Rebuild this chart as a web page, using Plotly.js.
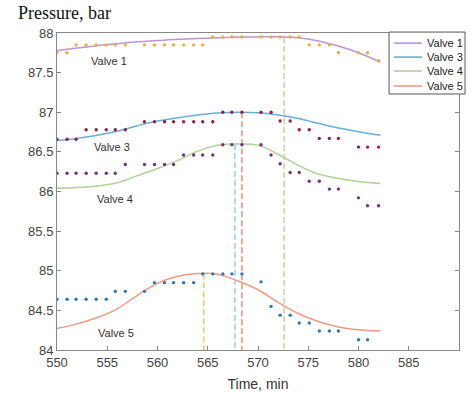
<!DOCTYPE html>
<html>
<head>
<meta charset="utf-8">
<script src="https://cdn.plot.ly/plotly-3.0.1.min.js"></script>
<style>html,body{margin:0;padding:0;background:#fff;}#chart{width:474px;height:398px;}</style>
</head>
<body>
<div id="chart"></div>
<script>
// Measured sample times (min)
const dotTimes = [550.0, 551.0, 551.9, 552.9, 553.9, 554.9, 555.8, 556.8, 558.7, 559.7, 560.7, 561.6, 562.6, 563.6, 564.5, 565.5, 566.5, 567.4, 568.4, 570.3, 571.3, 572.2, 573.2, 574.1, 575.1, 576.1, 577.1, 578.0, 580.0, 580.9, 582.0];
// Measured pressure points (bar)
const valve1Dots = [87.75, 87.75, 87.85, 87.85, 87.85, 87.85, 87.85, 87.85, 87.85, 87.85, 87.85, 87.85, 87.85, 87.85, 87.85, 87.95, 87.95, 87.95, 87.95, 87.95, 87.95, 87.95, 87.95, 87.95, 87.85, 87.85, 87.85, 87.75, 87.75, 87.75, 87.65];
const valve3Dots = [86.66, 86.66, 86.66, 86.78, 86.78, 86.78, 86.78, 86.78, 86.88, 86.88, 86.88, 86.88, 86.88, 86.88, 86.88, 86.88, 87.0, 87.0, 87.0, 87.0, 87.0, 86.89, 86.89, 86.78, 86.78, 86.67, 86.67, 86.67, 86.56, 86.56, 86.56];
const valve4Dots = [86.23, 86.23, 86.23, 86.23, 86.23, 86.23, 86.23, 86.34, 86.34, 86.34, 86.34, 86.34, 86.46, 86.46, 86.46, 86.46, 86.59, 86.59, 86.59, 86.59, 86.46, 86.35, 86.24, 86.24, 86.13, 86.13, 86.03, 86.03, 85.92, 85.82, 85.82];
const valve5Dots = [84.64, 84.64, 84.64, 84.64, 84.64, 84.64, 84.74, 84.74, 84.74, 84.85, 84.85, 84.85, 84.85, 84.85, 84.96, 84.96, 84.96, 84.96, 84.96, 84.86, 84.55, 84.44, 84.44, 84.34, 84.34, 84.24, 84.24, 84.24, 84.13, 84.13, null];

// Fitted curves
const curveTimes = [550, 552, 554, 556, 558, 560, 562, 564, 566, 568, 570, 572, 574, 576, 578, 580, 582.2];
const valve1Curve = [87.78, 87.81, 87.84, 87.865, 87.89, 87.905, 87.92, 87.93, 87.94, 87.948, 87.95, 87.952, 87.94, 87.9, 87.835, 87.75, 87.63];
const valve3Curve = [86.645, 86.67, 86.71, 86.76, 86.83, 86.89, 86.93, 86.965, 86.99, 87.0, 86.995, 86.965, 86.92, 86.86, 86.8, 86.755, 86.71];
const valve4Curve = [86.04, 86.05, 86.07, 86.11, 86.2, 86.29, 86.39, 86.51, 86.585, 86.6, 86.585, 86.47, 86.33, 86.22, 86.165, 86.125, 86.1];
const valve5Curve = [84.27, 84.33, 84.41, 84.52, 84.69, 84.84, 84.93, 84.965, 84.955, 84.87, 84.76, 84.6, 84.46, 84.36, 84.29, 84.255, 84.24];

// Peak markers
const peakTimes = [564.6, 567.7, 568.4, 572.6];
const peakValues = [84.97, 86.6, 87.0, 87.95];
const peakColors = ['#F2C660', '#93D2EC', '#EC8C76', '#CDD29E'];

const seriesNames = ['Valve 1', 'Valve 3', 'Valve 4', 'Valve 5'];
const lineColors = ['#BE95D6', '#68AEDA', '#AED495', '#F29A84'];
const dotColors = ['#EAAE42', '#8E2446', '#6E3580', '#2E78B4'];
const labelX = [553.2, 553.5, 553.8, 553.9];
const labelY = [87.65, 86.56, 85.91, 84.22];

const xTicks = [550, 555, 560, 565, 570, 575, 580, 585];
const yTicks = [84, 84.5, 85, 85.5, 86, 86.5, 87, 87.5, 88];

const curves = [valve1Curve, valve3Curve, valve4Curve, valve5Curve];
const dots = [valve1Dots, valve3Dots, valve4Dots, valve5Dots];

const font = 'Liberation Sans, Arial, sans-serif';
const traces = [];
for (let i = 0; i < 4; i++) {
  traces.push({x: [peakTimes[i], peakTimes[i]], y: [peakValues[i], 84], mode: 'lines', type: 'scatter',
    line: {color: peakColors[i], width: 1.5, dash: '6px,3px'}, showlegend: false, hoverinfo: 'skip'});
}
for (let i = 0; i < 4; i++) {
  traces.push({x: curveTimes, y: curves[i], mode: 'lines', type: 'scatter', name: seriesNames[i],
    line: {color: lineColors[i], width: 1.5, shape: 'spline'}, showlegend: false});
  traces.push({x: dotTimes, y: dots[i], mode: 'markers', type: 'scatter',
    marker: {color: dotColors[i], size: 3.4}, showlegend: false});
}

// Legend (drawn manually, paper coords)
const legTop = 1.003, legBottom = 0.8076, legLeft = 0.826, legRight = 1.015;
const legRows = [0.968, 0.924, 0.880, 0.833];
const shapes = [{type: 'rect', xref: 'paper', yref: 'paper', x0: legLeft, x1: legRight, y0: legBottom, y1: legTop,
  fillcolor: '#ffffff', line: {color: '#555', width: 1}, layer: 'above'}];
const annotations = [];
for (let i = 0; i < 4; i++) {
  shapes.push({type: 'line', xref: 'paper', yref: 'paper', x0: 0.838, x1: 0.908, y0: legRows[i], y1: legRows[i],
    line: {color: lineColors[i], width: 1.6}, layer: 'above'});
  annotations.push({xref: 'paper', yref: 'paper', x: 0.915, y: legRows[i], xanchor: 'left', yanchor: 'middle',
    text: seriesNames[i], showarrow: false, font: {family: font, size: 11, color: '#222'}});
  annotations.push({x: labelX[i], y: labelY[i], xanchor: 'left', yanchor: 'middle', text: seriesNames[i],
    showarrow: false, font: {family: font, size: 11, color: '#333'}});
}
annotations.push({xref: 'paper', yref: 'paper', x: -0.102, y: 1.063, xanchor: 'left', yanchor: 'middle',
  text: 'Pressure, bar', showarrow: false, font: {family: 'Liberation Serif, Times New Roman, serif', size: 18, color: '#111'}});

const layout = {
  width: 474, height: 398,
  margin: {l: 57, r: 15, t: 33, b: 48},
  paper_bgcolor: '#fff', plot_bgcolor: '#fff',
  showlegend: false,
  font: {family: font, color: '#444'},
  xaxis: {range: [550, 590], tickvals: xTicks, ticktext: xTicks.map(String), ticks: 'inside', ticklen: 4, tickcolor: '#888',
    showline: true, linecolor: '#888', linewidth: 1, mirror: true, showgrid: false, zeroline: false,
    tickfont: {size: 13, color: '#444'}, title: {text: 'Time, min', font: {size: 14, color: '#333'}, standoff: 10}},
  yaxis: {range: [84, 88], tickvals: yTicks, ticktext: yTicks.map(String), ticks: 'inside', ticklen: 4, tickcolor: '#888',
    showline: true, linecolor: '#888', linewidth: 1, mirror: 'ticks', showgrid: false, zeroline: false,
    tickfont: {size: 13, color: '#444'}},
  shapes: shapes,
  annotations: annotations
};
Plotly.newPlot('chart', traces, layout, {staticPlot: true, displayModeBar: false});
</script>
</body>
</html>
